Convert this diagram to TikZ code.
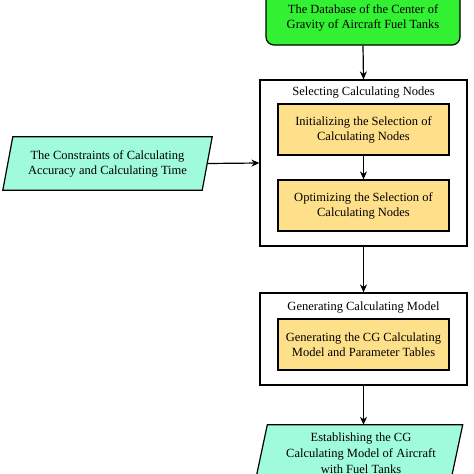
\documentclass[tikz,border=0pt]{standalone}
\usepackage{fontspec}
\setmainfont{Liberation Serif}
\usetikzlibrary{arrows.meta}
\definecolor{gfill}{RGB}{50,240,50}
\definecolor{cfill}{RGB}{160,250,220}
\definecolor{yfill}{RGB}{255,224,138}
\tikzset{
  txt/.style={align=center,font=\fontsize{12.5}{15}\selectfont,inner sep=0pt},
  greenbox/.style={txt,draw,line width=1.2pt,fill=gfill,rounded corners=8pt,minimum width=194pt,minimum height=54pt},
  outerbox/.style={draw,line width=1.2pt,fill=white,minimum width=207pt},
  yellowbox/.style={txt,draw,line width=1.2pt,fill=yfill,minimum width=171pt,minimum height=51pt},
  paranode/.style={txt,minimum height=53pt},
  parashape/.style={draw,line width=1.2pt,fill=cfill},
  conn/.style={line width=1.2pt,-{Stealth[length=8pt,width=7pt]}}
}
\begin{document}
\begin{tikzpicture}[x=1pt,y=-1pt]
\useasboundingbox (0,0) rectangle (474,474);
\clip (0,0) rectangle (474,474);
\fill[white] (0,0) rectangle (474,474);
% top database
\node[greenbox] (db) at (363,18) {The Database of the Center of\\Gravity of Aircraft Fuel Tanks};
% outer box 1
\node[outerbox,minimum height=166pt] (sel) at (363.5,163) {};
\node[txt] (selt) at (363.5,93) {Selecting Calculating Nodes};
\node[yellowbox] (ini) at (363.5,129.5) {Initializing the Selection of\\Calculating Nodes};
\node[yellowbox] (opt) at (363.5,205.5) {Optimizing the Selection of\\Calculating Nodes};
% outer box 2
\node[outerbox,minimum height=92pt] (gen) at (363.5,339) {};
\node[txt] (gent) at (363.5,308) {Generating Calculating Model};
\node[yellowbox] (cgm) at (363.5,344.5) {Generating the CG Calculating\\Model and Parameter Tables};
% left parallelogram
\node[paranode,minimum width=199pt] (con) at (107.5,163.5) {};
\draw[parashape] ([xshift=5pt]con.north west) -- ([xshift=5pt]con.north east) -- ([xshift=-5pt]con.south east) -- ([xshift=-5pt]con.south west) -- cycle;
\node[txt] (cont) at (con.center) {The Constraints of Calculating\\Accuracy and Calculating Time};
% bottom parallelogram
\node[paranode,minimum width=195pt,minimum height=56pt] (est) at (359,453) {};
\draw[parashape] ([xshift=6pt]est.north west) -- ([xshift=6pt]est.north east) -- ([xshift=-6pt]est.south east) -- ([xshift=-6pt]est.south west) -- cycle;
\node[txt,font=\fontsize{12.5}{16}\selectfont] (estt) at (361,453) {Establishing the CG\\Calculating Model of Aircraft\\with Fuel Tanks};
% connectors
\draw[conn] (db.south) -- (sel.north);
\draw[conn] (ini.south) -- (opt.north);
\draw[conn] (sel.south) -- (gen.north);
\draw[conn] (gen.south) -- (gen.south |- est.north);
\draw[conn] (con.east) -- (sel.west);
\end{tikzpicture}
\end{document}
